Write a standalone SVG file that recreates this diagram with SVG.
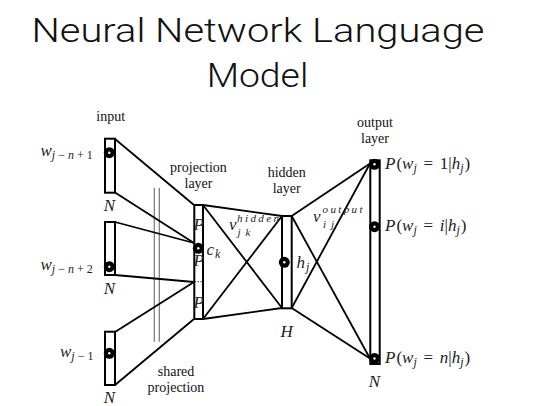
<svg xmlns="http://www.w3.org/2000/svg" width="541" height="406" viewBox="0 0 541 406">
<style>
.title{font-family:Roboto,"Liberation Sans",sans-serif;font-weight:300;font-size:33px;fill:#111}
.lbl{font-family:"Liberation Serif","DejaVu Serif",serif;font-size:14px;fill:#111}
.m{font-family:"Liberation Serif","DejaVu Serif",serif;font-style:italic;font-size:17px;fill:#222}
.s{font-size:12px}
.ss{font-size:11px}
.r{font-style:normal}
.box{fill:#fff;stroke:#000;stroke-width:2}
.ln{stroke:#000;stroke-width:1.8;fill:none}
.gray{stroke:#777;stroke-width:1.2}
</style>
<defs>
<g id="dot"><circle r="5.5" fill="#000"/><circle r="1.2" fill="#fff"/></g>
</defs>
<rect width="541" height="406" fill="#fff"/>
<text class="title" x="258" y="41.7" text-anchor="middle" textLength="453" lengthAdjust="spacingAndGlyphs">Neural Network Language</text>
<text class="title" x="257.5" y="86.7" text-anchor="middle" textLength="101.6" lengthAdjust="spacingAndGlyphs">Model</text>

<g id="connectors">
<line class="gray" x1="154.3" y1="187.7" x2="154.3" y2="341.7"/>
<line class="gray" x1="159.3" y1="187.7" x2="159.3" y2="341.7"/>
<line class="ln" x1="115" y1="139" x2="194" y2="205"/>
<line class="ln" x1="115" y1="192.5" x2="194" y2="243"/>
<line class="ln" x1="115" y1="222" x2="194" y2="243"/>
<line class="ln" x1="115" y1="275" x2="194" y2="282"/>
<line class="ln" x1="115" y1="332" x2="194" y2="282"/>
<line class="ln" x1="115" y1="385" x2="194" y2="319"/>
<line class="ln" x1="203" y1="205" x2="282" y2="216"/>
<line class="ln" x1="203" y1="205" x2="282" y2="308"/>
<line class="ln" x1="203" y1="319" x2="282" y2="216"/>
<line class="ln" x1="203" y1="319" x2="282" y2="308"/>
<line class="ln" x1="291.7" y1="216" x2="370" y2="163.5"/>
<line class="ln" x1="291.7" y1="216" x2="370" y2="358.5"/>
<line class="ln" x1="291.7" y1="308" x2="370" y2="163.5"/>
<line class="ln" x1="291.7" y1="308" x2="370" y2="358.5"/>
</g>

<g id="input">
<text class="lbl" x="110.7" y="120.7" text-anchor="middle">input</text>
<rect class="box" x="105" y="138.7" width="10" height="54"/>
<use href="#dot" x="109.3" y="152.7"/>
<text class="m" x="40.5" y="156">w<tspan class="s" dy="3">j<tspan class="r"> − </tspan>n<tspan class="r"> + 1</tspan></tspan></text>
<text class="m" x="109.3" y="210.5" text-anchor="middle">N</text>
<rect class="box" x="105" y="222" width="10" height="53"/>
<use href="#dot" x="109.3" y="266.7"/>
<text class="m" x="40.5" y="269.5">w<tspan class="s" dy="3">j<tspan class="r"> − </tspan>n<tspan class="r"> + 2</tspan></tspan></text>
<text class="m" x="109.3" y="293.8" text-anchor="middle">N</text>
<rect class="box" x="105" y="331.7" width="10" height="53.3"/>
<use href="#dot" x="109.3" y="353.3"/>
<text class="m" x="60" y="356.5">w<tspan class="s" dy="3">j<tspan class="r"> − 1</tspan></tspan></text>
<text class="m" x="109.3" y="403" text-anchor="middle">N</text>
</g>

<g id="shared-label">
<text class="lbl" x="176" y="376" text-anchor="middle">shared</text>
<text class="lbl" x="176" y="391.7" text-anchor="middle">projection</text>
</g>

<g id="projection">
<text class="lbl" x="198.5" y="172" text-anchor="middle">projection</text>
<text class="lbl" x="198.5" y="188" text-anchor="middle">layer</text>
<rect class="box" x="194.3" y="205" width="8.7" height="114"/>
<line x1="194.5" y1="281.7" x2="203" y2="281.7" stroke="#000" stroke-width="0.8" stroke-dasharray="1.5,1.5"/>
<text class="m" x="198.6" y="230" text-anchor="middle" font-size="15">P</text>
<text class="m" x="198.6" y="266" text-anchor="middle" font-size="15">P</text>
<text class="m" x="198.6" y="308" text-anchor="middle" font-size="15">P</text>
<use href="#dot" x="198.3" y="248.3"/>
<text class="m" x="206.5" y="255">c<tspan class="s" dy="3" dx="1">k</tspan></text>
<text class="m" x="229" y="230">v</text>
<text class="m ss" x="237" y="221.5" textLength="42" lengthAdjust="spacing">hidden</text>
<text class="m ss" x="237.5" y="236" textLength="13" lengthAdjust="spacing">jk</text>
</g>

<g id="hidden">
<text class="lbl" x="286.7" y="176.7" text-anchor="middle">hidden</text>
<text class="lbl" x="286.7" y="192.7" text-anchor="middle">layer</text>
<rect class="box" x="282" y="216" width="9.7" height="92.3"/>
<use href="#dot" x="284.3" y="262.3"/>
<text class="m" x="296.5" y="268">h<tspan class="s" dy="3" dx="1">j</tspan></text>
<text class="m" x="286.7" y="337" text-anchor="middle">H</text>
<text class="m" x="313" y="222">v</text>
<text class="m ss" x="322.5" y="212.5" textLength="40" lengthAdjust="spacing">output</text>
<text class="m ss" x="323" y="228" textLength="11" lengthAdjust="spacing">ij</text>
</g>

<g id="output">
<text class="lbl" x="375" y="126.7" text-anchor="middle">output</text>
<text class="lbl" x="375" y="142.7" text-anchor="middle">layer</text>
<rect class="box" x="370.3" y="160.3" width="9.4" height="203.7"/>
<use href="#dot" x="374.5" y="164.3"/>
<use href="#dot" x="374.5" y="226.7"/>
<use href="#dot" x="374.5" y="358.5"/>
<text class="m" x="385" y="168.5">P<tspan class="r" dx="1">(</tspan>w<tspan class="s" dy="3">j</tspan><tspan class="r" dy="-3" dx="2.5"> =</tspan><tspan class="r" dx="2.5"> 1|</tspan>h<tspan class="s" dy="3">j</tspan><tspan class="r" dy="-3" dx="1">)</tspan></text>
<text class="m" x="385" y="231">P<tspan class="r" dx="1">(</tspan>w<tspan class="s" dy="3">j</tspan><tspan class="r" dy="-3" dx="2.5"> =</tspan><tspan class="r" dx="2.5"> </tspan>i<tspan class="r">|</tspan>h<tspan class="s" dy="3">j</tspan><tspan class="r" dy="-3" dx="1">)</tspan></text>
<text class="m" x="385" y="363">P<tspan class="r" dx="1">(</tspan>w<tspan class="s" dy="3">j</tspan><tspan class="r" dy="-3" dx="2.5"> =</tspan><tspan class="r" dx="2.5"> </tspan>n<tspan class="r">|</tspan>h<tspan class="s" dy="3">j</tspan><tspan class="r" dy="-3" dx="1">)</tspan></text>
<text class="m" x="374.5" y="387" text-anchor="middle">N</text>
</g>
</svg>
